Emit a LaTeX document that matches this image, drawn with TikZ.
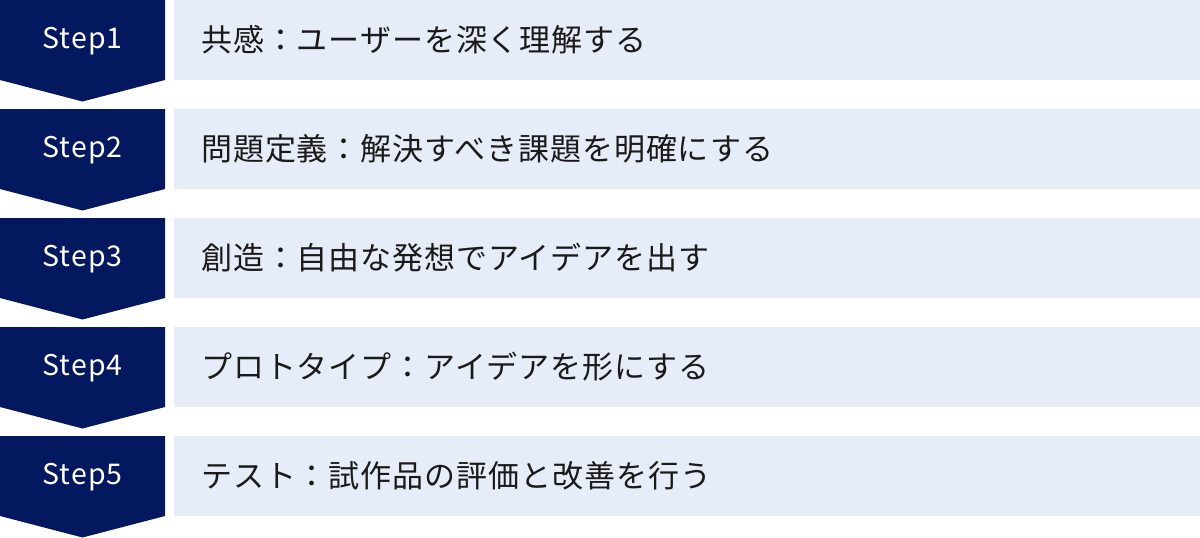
\documentclass[tikz,border=0pt]{standalone}
\usepackage{fontspec}
\setmainfont{Noto Sans CJK JP}
\newfontfamily\stepfont[LetterSpace=4]{Noto Sans CJK JP}
\newfontfamily\jpfont[LetterSpace=3]{Noto Sans CJK JP}
\definecolor{navy}{HTML}{041860}
\definecolor{lightbg}{HTML}{E6ECF8}
\definecolor{txt}{HTML}{1A1A1A}
\tikzset{
  stepshape/.style={fill=navy, draw=none},
  barbox/.style={fill=lightbg, draw=none},
  steplabel/.style={text=white, font=\stepfont\fontsize{28.5}{33}\selectfont, inner sep=0pt},
  desclabel/.style={text=txt, font=\jpfont\fontsize{31}{36}\selectfont, anchor=west, inner sep=0pt},
}
\begin{document}
\begin{tikzpicture}[x=1pt,y=-1pt]
\useasboundingbox (0,0) rectangle (1200,538);
\foreach \i/\desc in {1/{共感：ユーザーを深く理解する},2/{問題定義：解決すべき課題を明確にする},3/{創造：自由な発想でアイデアを出す},4/{プロトタイプ：アイデアを形にする},5/{テスト：試作品の評価と改善を行う}}{
  \pgfmathsetmacro{\t}{(\i-1)*109}
  \fill[stepshape] (0,\t) -- (165,\t) -- (165,\t+80) -- (82.5,\t+101.5) -- (0,\t+80) -- cycle;
  \fill[barbox] (174,\t) rectangle (1200,\t+80);
  \node[steplabel] (step\i) at (82.5,\t+41) {Step\i};
  \node[desclabel] (desc\i) at (201,\t+40) {\desc};
}
\end{tikzpicture}
\end{document}
